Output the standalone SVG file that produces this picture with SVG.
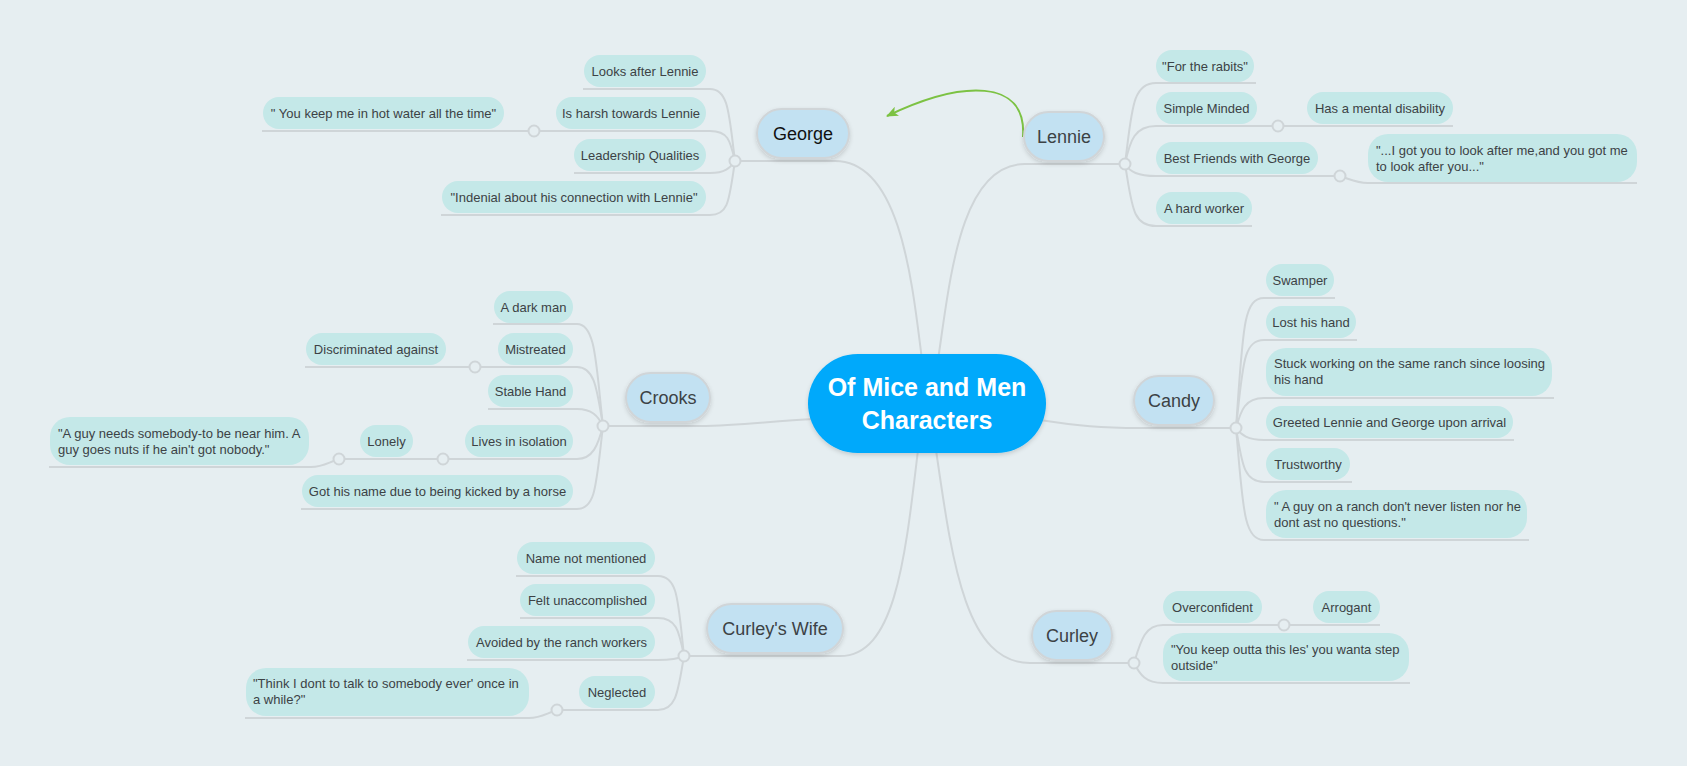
<svg xmlns="http://www.w3.org/2000/svg" width="1687" height="766" viewBox="0 0 1687 766">
<defs>
<style>
.ln{fill:none;stroke:#cfd5d8;stroke-width:2}
.jn{fill:#e6eef1;stroke:#cfd5d8;stroke-width:2}
.sub rect{fill:#c4e8e8}
.sub text{font-family:"Liberation Sans",Arial,sans-serif;font-size:13px;fill:#3c4245}
.mid{text-anchor:middle}
.topic rect{fill:#c2e1f2;stroke:#d0d5d8;stroke-width:2}
.topic text{font-family:"Liberation Sans",Arial,sans-serif;font-size:18px;fill:#3c4245;text-anchor:middle}
.root rect{fill:#02a9fb}
.root text{font-family:"Liberation Sans",Arial,sans-serif;font-size:25px;font-weight:bold;fill:#ffffff;text-anchor:middle}
</style>
<filter id="sh" x="-20%" y="-20%" width="140%" height="160%">
<feDropShadow dx="0" dy="2" stdDeviation="2" flood-color="#000" flood-opacity="0.15"/>
</filter>
<marker id="ah" viewBox="0 0 12 10" refX="11" refY="5" markerWidth="12" markerHeight="10" markerUnits="userSpaceOnUse" orient="auto">
<path d="M0,0 L12,5 L0,10 L3,5 z" fill="#7cc243"/>
</marker>
</defs>
<rect width="1687" height="766" fill="#e6eef1"/>

<g id="connectors">
<path class="ln" d="M922,360 C912,280 900,161 835,161 L735,161"/>
<path class="ln" d="M938,360 C950,280 960,164 1025,164 L1125,164"/>
<path class="ln" d="M815,419 C770,421 740,426 700,426 L603,426"/>
<path class="ln" d="M1040,420 C1080,426 1100,428 1140,428 L1236,428"/>
<path class="ln" d="M918,450 C905,560 895,656 840,656 L684,656"/>
<path class="ln" d="M936,450 C952,560 965,663 1030,663 L1134,663"/>

<path class="ln" d="M735,161 C729,115 729,89 710,89 L583,89"/>
<path class="ln" d="M735,161 C730,140 728,131 710,131 L534,131"/>
<path class="ln" d="M534,131 L262,131"/>
<path class="ln" d="M735,161 C730,168 725,173 710,173 L574,173"/>
<path class="ln" d="M735,161 C729,200 729,215 710,215 L441,215"/>

<path class="ln" d="M1125,164 C1132,110 1132,83 1156,83 L1256,83"/>
<path class="ln" d="M1125,164 C1130,140 1135,126 1156,126 L1278,126"/>
<path class="ln" d="M1278,126 L1453,126"/>
<path class="ln" d="M1125,164 C1130,172 1138,176 1156,176 L1340,176"/>
<path class="ln" d="M1340,176 C1352,180 1356,183 1368,183 L1637,183"/>
<path class="ln" d="M1125,164 C1132,205 1132,226 1156,226 L1252,226"/>

<path class="ln" d="M603,426 C596,365 596,324 577,324 L493,324"/>
<path class="ln" d="M603,426 C597,390 595,367 577,367 L475,367"/>
<path class="ln" d="M475,367 L305,367"/>
<path class="ln" d="M603,426 C598,416 592,409 577,409 L488,409"/>
<path class="ln" d="M603,426 C598,445 593,459 577,459 L443,459"/>
<path class="ln" d="M443,459 L339,459"/>
<path class="ln" d="M339,459 C327,463 323,467 311,467 L49,467"/>
<path class="ln" d="M603,426 C596,485 596,509 577,509 L301,509"/>

<path class="ln" d="M1236,428 C1243,330 1243,298 1264,298 L1335,298"/>
<path class="ln" d="M1236,428 C1243,365 1243,340 1264,340 L1357,340"/>
<path class="ln" d="M1236,428 C1241,410 1245,398 1264,398 L1554,398"/>
<path class="ln" d="M1236,428 C1241,435 1248,440 1264,440 L1514,440"/>
<path class="ln" d="M1236,428 C1242,462 1243,482 1264,482 L1352,482"/>
<path class="ln" d="M1236,428 C1243,505 1243,540 1264,540 L1529,540"/>

<path class="ln" d="M684,656 C678,600 678,576 658,576 L516,576"/>
<path class="ln" d="M684,656 C679,630 676,618 658,618 L520,618"/>
<path class="ln" d="M684,656 C678,659 672,660 658,660 L467,660"/>
<path class="ln" d="M684,656 C678,690 677,710 658,710 L557,710"/>
<path class="ln" d="M557,710 C545,714 541,718 529,718 L245,718"/>

<path class="ln" d="M1134,663 C1141,640 1145,625 1163,625 L1284,625"/>
<path class="ln" d="M1284,625 L1380,625"/>
<path class="ln" d="M1134,663 C1140,675 1146,683 1163,683 L1410,683"/>

<circle class="jn" cx="735" cy="161" r="5.5"/>
<circle class="jn" cx="1125" cy="164" r="5.5"/>
<circle class="jn" cx="603" cy="426" r="5.5"/>
<circle class="jn" cx="1236" cy="428" r="5.5"/>
<circle class="jn" cx="684" cy="656" r="5.5"/>
<circle class="jn" cx="1134" cy="663" r="5.5"/>
<circle class="jn" cx="534" cy="131" r="5.5"/>
<circle class="jn" cx="1278" cy="126" r="5.5"/>
<circle class="jn" cx="1340" cy="176" r="5.5"/>
<circle class="jn" cx="475" cy="367" r="5.5"/>
<circle class="jn" cx="443" cy="459" r="5.5"/>
<circle class="jn" cx="339" cy="459" r="5.5"/>
<circle class="jn" cx="557" cy="710" r="5.5"/>
<circle class="jn" cx="1284" cy="625" r="5.5"/>

<path d="M1023,137 C1027,78 962,80 887,116" fill="none" stroke="#7cc243" stroke-width="2" marker-end="url(#ah)"/>
</g>

<g id="root" class="root">
<rect x="808" y="354" width="238" height="99" rx="49.5" filter="url(#sh)"/>
<text x="927" y="396">Of Mice and Men</text>
<text x="927" y="429">Characters</text>
</g>

<g id="george" class="topic">
<rect x="757" y="109" width="92" height="49" rx="24.5" filter="url(#sh)"/>
<text x="803" y="140" style="fill:#111">George</text>
</g>
<g id="lennie" class="topic">
<rect x="1024" y="112" width="80" height="49" rx="24.5" filter="url(#sh)"/>
<text x="1064" y="143">Lennie</text>
</g>
<g id="crooks" class="topic">
<rect x="626" y="373" width="84" height="49" rx="24.5" filter="url(#sh)"/>
<text x="668" y="404">Crooks</text>
</g>
<g id="candy" class="topic">
<rect x="1134" y="376" width="80" height="49" rx="24.5" filter="url(#sh)"/>
<text x="1174" y="407">Candy</text>
</g>
<g id="curleys-wife" class="topic">
<rect x="707" y="604" width="136" height="49" rx="24.5" filter="url(#sh)"/>
<text x="775" y="635">Curley's Wife</text>
</g>
<g id="curley" class="topic">
<rect x="1032" y="611" width="80" height="49" rx="24.5" filter="url(#sh)"/>
<text x="1072" y="642">Curley</text>
</g>

<g id="g1" class="sub"><rect x="584" y="55" width="122" height="32" rx="16"/><text class="mid" x="645" y="75.5">Looks after Lennie</text></g>
<g id="g2" class="sub"><rect x="556" y="97" width="150" height="32" rx="16"/><text class="mid" x="631" y="117.5">Is harsh towards Lennie</text></g>
<g id="g2a" class="sub"><rect x="263" y="97" width="241" height="32" rx="16"/><text class="mid" x="383.5" y="117.5">" You keep me in hot water all the time"</text></g>
<g id="g3" class="sub"><rect x="574" y="139" width="132" height="32" rx="16"/><text class="mid" x="640" y="159.5">Leadership Qualities</text></g>
<g id="g4" class="sub"><rect x="442" y="181" width="264" height="32" rx="16"/><text class="mid" x="574" y="201.5">"Indenial about his connection with Lennie"</text></g>

<g id="l1" class="sub"><rect x="1156" y="50" width="98" height="32" rx="16"/><text class="mid" x="1205" y="70.5">"For the rabits"</text></g>
<g id="l2" class="sub"><rect x="1156" y="92" width="101" height="32" rx="16"/><text class="mid" x="1206.5" y="112.5">Simple Minded</text></g>
<g id="l2a" class="sub"><rect x="1307" y="92" width="146" height="32" rx="16"/><text class="mid" x="1380" y="112.5">Has a mental disability</text></g>
<g id="l3" class="sub"><rect x="1156" y="142" width="162" height="32" rx="16"/><text class="mid" x="1237" y="162.5">Best Friends with George</text></g>
<g id="l3a" class="sub"><rect x="1368" y="134" width="269" height="48" rx="20"/><text x="1376" y="154.5">"...I got you to look after me,and you got me</text><text x="1376" y="170.5">to look after you..."</text></g>
<g id="l4" class="sub"><rect x="1156" y="192" width="96" height="32" rx="16"/><text class="mid" x="1204" y="212.5">A hard worker</text></g>

<g id="c1" class="sub"><rect x="494" y="291" width="79" height="32" rx="16"/><text class="mid" x="533.5" y="311.5">A dark man</text></g>
<g id="c2" class="sub"><rect x="498" y="333" width="75" height="32" rx="16"/><text class="mid" x="535.5" y="353.5">Mistreated</text></g>
<g id="c2a" class="sub"><rect x="306" y="333" width="140" height="32" rx="16"/><text class="mid" x="376" y="353.5">Discriminated against</text></g>
<g id="c3" class="sub"><rect x="488" y="375" width="85" height="32" rx="16"/><text class="mid" x="530.5" y="395.5">Stable Hand</text></g>
<g id="c4" class="sub"><rect x="465" y="425" width="108" height="32" rx="16"/><text class="mid" x="519" y="445.5">Lives in isolation</text></g>
<g id="c4a" class="sub"><rect x="360" y="425" width="53" height="32" rx="16"/><text class="mid" x="386.5" y="445.5">Lonely</text></g>
<g id="c4b" class="sub"><rect x="50" y="417" width="259" height="48" rx="20"/><text x="58" y="437.5">"A guy needs somebody-to be near him. A</text><text x="58" y="453.5">guy goes nuts if he ain't got nobody."</text></g>
<g id="c5" class="sub"><rect x="302" y="475" width="271" height="32" rx="16"/><text class="mid" x="437.5" y="495.5">Got his name due to being kicked by a horse</text></g>

<g id="d1" class="sub"><rect x="1266" y="264" width="68" height="32" rx="16"/><text class="mid" x="1300" y="284.5">Swamper</text></g>
<g id="d2" class="sub"><rect x="1266" y="306" width="90" height="32" rx="16"/><text class="mid" x="1311" y="326.5">Lost his hand</text></g>
<g id="d3" class="sub"><rect x="1266" y="348" width="286" height="48" rx="20"/><text x="1274" y="367.5">Stuck working on the same ranch since loosing</text><text x="1274" y="383.5">his hand</text></g>
<g id="d4" class="sub"><rect x="1266" y="406" width="247" height="32" rx="16"/><text class="mid" x="1389.5" y="426.5">Greeted Lennie and George upon arrival</text></g>
<g id="d5" class="sub"><rect x="1266" y="448" width="84" height="32" rx="16"/><text class="mid" x="1308" y="468.5">Trustworthy</text></g>
<g id="d6" class="sub"><rect x="1266" y="490" width="261" height="48" rx="20"/><text x="1274" y="510.5">" A guy on a ranch don't never listen nor he</text><text x="1274" y="526.5">dont ast no questions."</text></g>

<g id="w1" class="sub"><rect x="517" y="542" width="138" height="32" rx="16"/><text class="mid" x="586" y="562.5">Name not mentioned</text></g>
<g id="w2" class="sub"><rect x="520" y="584" width="135" height="32" rx="16"/><text class="mid" x="587.5" y="604.5">Felt unaccomplished</text></g>
<g id="w3" class="sub"><rect x="468" y="626" width="187" height="32" rx="16"/><text class="mid" x="561.5" y="646.5">Avoided by the ranch workers</text></g>
<g id="w4" class="sub"><rect x="579" y="676" width="76" height="32" rx="16"/><text class="mid" x="617" y="696.5">Neglected</text></g>
<g id="w4a" class="sub"><rect x="246" y="668" width="283" height="48" rx="20"/><text x="253" y="687.5">"Think I dont to talk to somebody ever' once in</text><text x="253" y="703.5">a while?"</text></g>

<g id="u1" class="sub"><rect x="1163" y="591" width="99" height="32" rx="16"/><text class="mid" x="1212.5" y="611.5">Overconfident</text></g>
<g id="u1a" class="sub"><rect x="1313" y="591" width="67" height="32" rx="16"/><text class="mid" x="1346.5" y="611.5">Arrogant</text></g>
<g id="u2" class="sub"><rect x="1163" y="633" width="246" height="48" rx="20"/><text x="1171" y="653.5">"You keep outta this les' you wanta step</text><text x="1171" y="669.5">outside"</text></g>
</svg>
